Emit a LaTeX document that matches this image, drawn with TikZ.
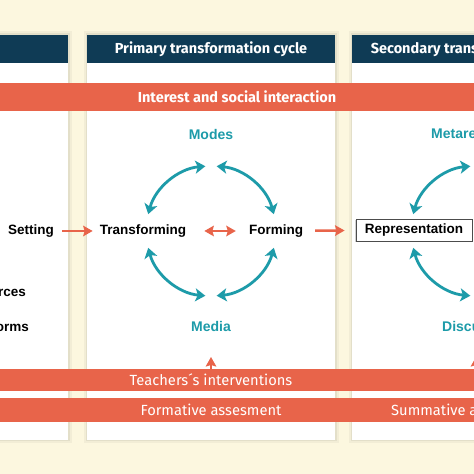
\documentclass[tikz,border=0pt]{standalone}
\usepackage{fontspec}
\setmainfont{Liberation Sans}
\newfontfamily\bandfont{Fira Sans}
\usepackage{xcolor}
\definecolor{mCream}{HTML}{FCF7DF}
\definecolor{mNavy}{HTML}{0F3B55}
\definecolor{mOrange}{HTML}{E8644A}
\definecolor{mTeal}{HTML}{1D9BA9}
\usetikzlibrary{positioning,arrows.meta,calc,shadows}
\tikzset{
  headtxt/.style={text=white, font=\bandfont\bfseries\fontsize{14.5}{16}\selectfont, inner sep=0pt},
  band/.style={fill=mOrange, minimum height=#1, inner sep=0pt, text=white},
  lbl/.style={font=\bfseries\fontsize{13.5}{16}\selectfont, text=black, inner sep=2pt},
  cyclbl/.style={font=\bfseries\fontsize{14}{16}\selectfont, text=mTeal, inner sep=2pt},
  cyc/.style={{Stealth[length=10pt,width=13pt,inset=2.5pt]}-{Stealth[length=10pt,width=13pt,inset=2.5pt]}, mTeal, line width=2.8pt},
  flow/.style={-{Stealth[length=9.5pt,width=10.5pt,inset=1.5pt]}, mOrange, line width=2.5pt},
  flowboth/.style={{Stealth[length=9.5pt,width=10.5pt,inset=1.5pt]}-{Stealth[length=9.5pt,width=10.5pt,inset=1.5pt]}, mOrange, line width=2.5pt}
}
% panel: left x, name, title
\newcommand{\tpanel}[3]{%
 \fill[black, opacity=0.04] (#1-3.5,30.5) rectangle (#1+251.5,442.5);
 \fill[black, opacity=0.06] (#1-1.5,32.5) rectangle (#1+249.5,440.5);
 \fill[white] (#1,34) rectangle (#1+248,439);
 \fill[mNavy] (#1,411) rectangle (#1+248,439);
 \node[headtxt] (#2) at (#1+124,425) {#3};}

\begin{document}
\begin{tikzpicture}[x=1pt, y=1pt]
\useasboundingbox (0,0) rectangle (474,474);
\clip (0,0) rectangle (474,474);
\fill[mCream] (0,0) rectangle (474,474);
\tpanel{-180}{hleft}{}
\tpanel{87}{hprim}{Primary transformation cycle}
\tpanel{352}{hsec}{Secondary transformation cycle}

% bands
\node[band=28pt, minimum width=700pt, font=\bandfont\bfseries\fontsize{14.5}{16}\selectfont] (interest) at (237,377) {Interest and social interaction};
\node[band=22pt, minimum width=700pt, font=\bandfont\fontsize{14.7}{16}\selectfont] (teach) at (211,94) {Teachers´s interventions};
\node[band=24pt, minimum width=700pt, font=\bandfont\fontsize{14.7}{16}\selectfont] (assess) at (211,64) {Formative assesment};
\node[text=white, font=\bandfont\fontsize{14.7}{16}\selectfont, inner sep=0pt, anchor=west] (summ) at (391,64) {Summative assesment};

% left column
\node[lbl] (setting) at (31,243) {Setting};
\node[lbl, anchor=east] (resources) at (28,182) {Resources};
\node[lbl, anchor=east] (forms) at (31,147) {Forms};

% primary cycle
\coordinate (mc) at (211,243);
\node[cyclbl] (modes) at (211,339) {Modes};
\node[cyclbl] (media) at (211,148) {Media};
\node[lbl] (transf) at (143,243) {Transforming};
\node[lbl] (forming) at (276,243) {Forming};
\draw[cyc] ([shift={(95:65)}]mc) arc[start angle=95, end angle=165, radius=65pt];
\draw[cyc] ([shift={(15:65)}]mc) arc[start angle=15, end angle=85, radius=65pt];
\draw[cyc] ([shift={(195:65)}]mc) arc[start angle=195, end angle=265, radius=65pt];
\draw[cyc] ([shift={(275:65)}]mc) arc[start angle=275, end angle=345, radius=65pt];

% secondary cycle
\coordinate (rc) at (476,243);
\node[lbl, draw=black!70, line width=0.8pt, fill=white, minimum width=116pt, minimum height=22pt,
  drop shadow={shadow xshift=-0.8pt, shadow yshift=-0.8pt, opacity=0.35}] (repr) at (414,244) {Representation};
\node[cyclbl, anchor=west] (metarep) at (429,339) {Metarepresentation};
\node[cyclbl, anchor=west] (discuss) at (440,148) {Discussion};
\draw[cyc] ([shift={(95:65)}]rc) arc[start angle=95, end angle=165, radius=65pt];
\draw[cyc] ([shift={(195:65)}]rc) arc[start angle=195, end angle=265, radius=65pt];

% flow arrows
\draw[flow, shorten <=6pt, shorten >=5pt] (setting) -- (transf);
\draw[flowboth, shorten <=16pt, shorten >=11pt] (transf) -- (forming);
\draw[flow, shorten <=10pt, shorten >=11pt] (forming) -- (repr);
\coordinate (tipm) at (211,117);
\coordinate (tipd) at (476,117);
\draw[flow] (teach.north -| tipm) -- (tipm);
\draw[flow] (teach.north -| tipd) -- (tipd);
\end{tikzpicture}
\end{document}
